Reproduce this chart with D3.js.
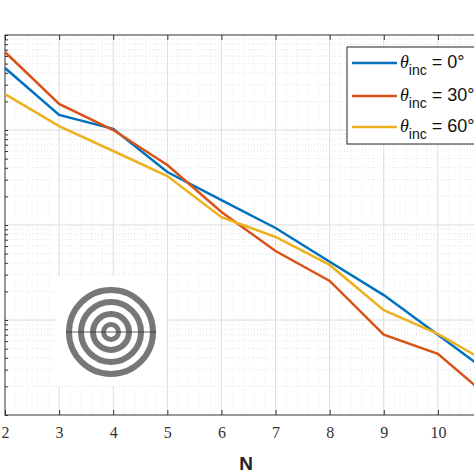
<!DOCTYPE html>
<html><head><meta charset="utf-8">
<script src="https://cdn.jsdelivr.net/npm/d3@7"></script>
<style>body{margin:0;background:#fff}svg{display:block}</style>
</head><body>
<svg id="c" width="474" height="474"></svg>
<script>
const N = [2,3,4,5,6,7,8,9,10,11];
const s0 = [0.45,0.144,0.103,0.0361,0.0183,0.0093,0.0041,0.00183,0.00070,0.000264];
const s30 = [0.662,0.188,0.1,0.0428,0.0137,0.00532,0.00258,0.0007,0.00044,0.000144];
const s60 = [0.239,0.110,0.0601,0.0328,0.0121,0.00748,0.0038,0.00127,0.000713,0.000336];
const labels = ["0°","30°","60°"];
const colors = ["#0072BD","#D95319","#EDB120"];
const xTicks = [2,3,4,5,6,7,8,9,10];

const svg = d3.select("#c");
const L=5, T=35, B=415, R=492;
const x = d3.scaleLinear().domain([2,11]).range([L,R]);
const y = d3.scaleLog().domain([1e-4,1]).range([B,T]);

svg.append("rect").attr("x",L).attr("y",T).attr("width",R-L).attr("height",B-T).attr("fill","#fff");
// minor grid
const minors=[];
for(let e=-4;e<0;e++) for(let k=2;k<10;k++) minors.push(k*Math.pow(10,e));
svg.append("g").selectAll("line").data(minors).join("line")
 .attr("x1",L).attr("x2",R).attr("y1",d=>y(d)).attr("y2",d=>y(d))
 .attr("stroke","#ccc").attr("stroke-width",0.6).attr("stroke-dasharray","1,2");
const xminor=d3.range(2,11.01,0.2).filter(v=>Math.abs(v-Math.round(v))>0.01);
svg.append("g").selectAll("line").data(xminor).join("line")
 .attr("y1",T).attr("y2",B).attr("x1",d=>x(d)).attr("x2",d=>x(d))
 .attr("stroke","#ddd").attr("stroke-width",0.6).attr("stroke-dasharray","1,2");
// major grid
svg.append("g").selectAll("line").data([1e-3,1e-2,1e-1]).join("line")
 .attr("x1",L).attr("x2",R).attr("y1",d=>y(d)).attr("y2",d=>y(d)).attr("stroke","#dcdcdc").attr("stroke-width",1);
svg.append("g").selectAll("line").data(xTicks.slice(1)).join("line")
 .attr("y1",T).attr("y2",B).attr("x1",d=>x(d)).attr("x2",d=>x(d)).attr("stroke","#dcdcdc").attr("stroke-width",1);

// axes
const xa = svg.append("g").attr("transform",`translate(0,${B})`)
 .call(d3.axisBottom(x).tickValues(xTicks).tickSize(-5).tickPadding(12).tickFormat(d3.format("d")));
xa.select(".domain").remove();
xa.selectAll("text").attr("font-family","Liberation Serif").attr("font-size",16).attr("fill","#333");
xa.selectAll("line").attr("stroke","#333");
const xt = svg.append("g").attr("transform",`translate(0,${T})`)
 .call(d3.axisTop(x).tickValues(xTicks).tickSize(-5).tickFormat(""));
xt.select(".domain").remove(); xt.selectAll("line").attr("stroke","#333");
const ya = svg.append("g").attr("transform",`translate(${L},0)`)
 .call(d3.axisLeft(y).tickValues(minors.concat([1e-4,1e-3,1e-2,1e-1,1])).tickSize(-3).tickFormat(""));
ya.select(".domain").remove(); ya.selectAll("line").attr("stroke","#333");
svg.append("rect").attr("x",L).attr("y",T).attr("width",R-L).attr("height",B-T)
 .attr("fill","none").attr("stroke","#333").attr("stroke-width",1);

// lines
const line = d3.line().x((d,i)=>x(N[i])).y(d=>y(d));
[s0,s30,s60].forEach((s,i)=>{
  svg.append("path").attr("d",line(s)).attr("fill","none").attr("stroke",colors[i]).attr("stroke-width",2.5);
});

// inset
const cx=111, cy=332;
svg.append("rect").attr("x",56).attr("y",276).attr("width",110).attr("height",110).attr("fill","#fff");
[[45,39],[33,27],[21,15],[10,5]].forEach(([ro,ri])=>{
  svg.append("circle").attr("cx",cx).attr("cy",cy).attr("r",(ro+ri)/2).attr("fill","none")
   .attr("stroke","#777").attr("stroke-width",ro-ri);
});
svg.append("line").attr("x1",cx-45).attr("x2",cx+45).attr("y1",cy).attr("y2",cy).attr("stroke","#333").attr("stroke-width",0.8);

// legend
svg.append("rect").attr("x",347).attr("y",47).attr("width",140).attr("height",97)
 .attr("fill","#fff").attr("stroke","#222").attr("stroke-width",1);
labels.forEach((lb,i)=>{
  const ly=[63,96,127][i];
  svg.append("line").attr("x1",352).attr("x2",397).attr("y1",ly).attr("y2",ly).attr("stroke",colors[i]).attr("stroke-width",2.5);
  const t=svg.append("text").attr("x",400).attr("y",ly+5).attr("font-family","Liberation Sans").attr("font-size",18).attr("fill","#111");
  t.append("tspan").attr("font-family","Liberation Serif").attr("font-style","italic").text("θ");
  t.append("tspan").attr("font-size",14).attr("dy",7).text("inc");
  t.append("tspan").attr("dy",-7).text(i===0?" =  "+lb:" = "+lb);
});

svg.append("text").attr("x",246).attr("y",470).attr("text-anchor","middle")
 .attr("font-family","Liberation Sans").attr("font-weight","bold").attr("font-size",19).attr("fill","#222").text("N");
</script>
</body></html>
